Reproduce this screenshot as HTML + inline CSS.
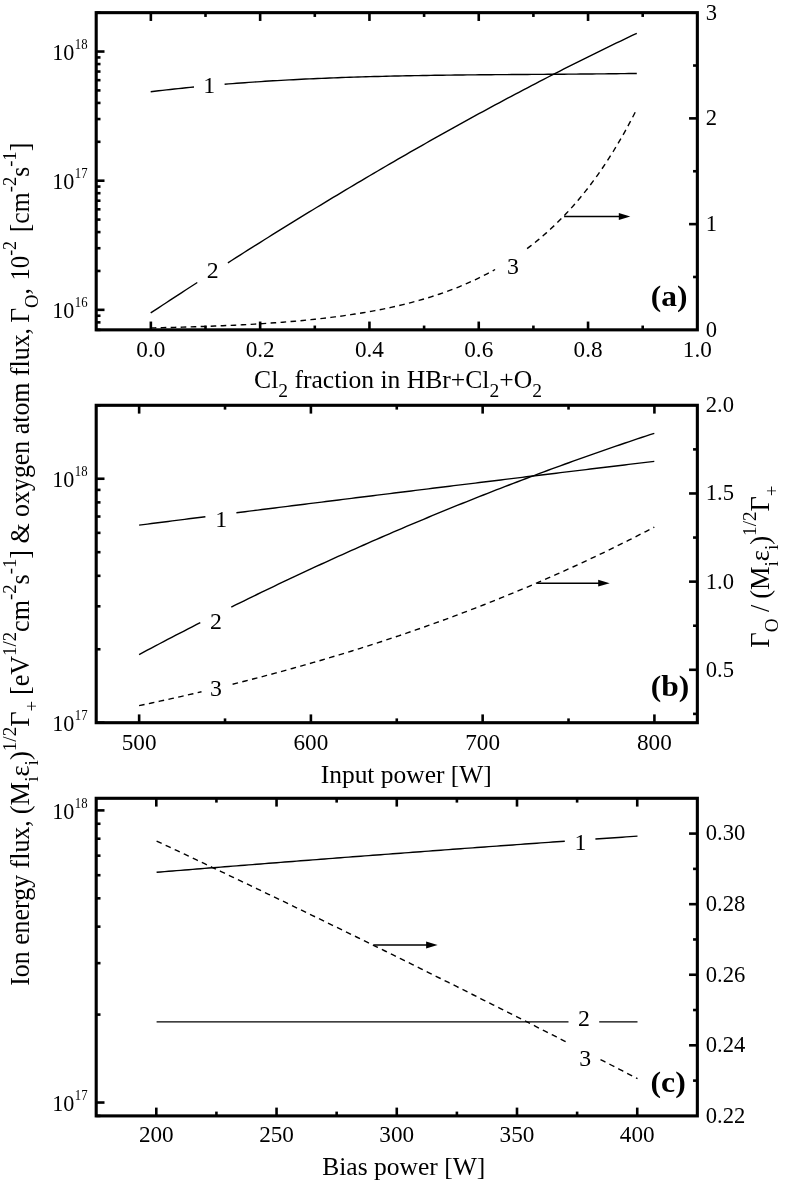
<!DOCTYPE html>
<html lang="en">
<head>
<meta charset="utf-8">
<title>Figure</title>
<style>html,body{margin:0;padding:0;background:#fff;}svg{display:block;}</style>
</head>
<body>
<svg width="785" height="1184" viewBox="0 0 785 1184" font-family='"Liberation Serif", serif' fill="#000" stroke="#000">
<rect x="0" y="0" width="785" height="1184" fill="#fff" stroke="none"/>
<g stroke="#000" fill="none" stroke-linecap="butt">
<rect x="96.2" y="12.65" width="601.15" height="317.2" fill="none" stroke="#000" stroke-width="3.1"/>
<line x1="96.2" y1="329.85" x2="100.5" y2="329.85" stroke-width="2.6"/>
<line x1="96.2" y1="322.36" x2="100.5" y2="322.36" stroke-width="2.6"/>
<line x1="96.2" y1="315.75" x2="100.5" y2="315.75" stroke-width="2.6"/>
<line x1="96.2" y1="309.84" x2="104.5" y2="309.84" stroke-width="2.6"/>
<line x1="96.2" y1="270.96" x2="100.5" y2="270.96" stroke-width="2.6"/>
<line x1="96.2" y1="248.22" x2="100.5" y2="248.22" stroke-width="2.6"/>
<line x1="96.2" y1="232.08" x2="100.5" y2="232.08" stroke-width="2.6"/>
<line x1="96.2" y1="219.57" x2="100.5" y2="219.57" stroke-width="2.6"/>
<line x1="96.2" y1="209.34" x2="100.5" y2="209.34" stroke-width="2.6"/>
<line x1="96.2" y1="200.69" x2="100.5" y2="200.69" stroke-width="2.6"/>
<line x1="96.2" y1="193.2" x2="100.5" y2="193.2" stroke-width="2.6"/>
<line x1="96.2" y1="186.6" x2="100.5" y2="186.6" stroke-width="2.6"/>
<line x1="96.2" y1="180.69" x2="104.5" y2="180.69" stroke-width="2.6"/>
<line x1="96.2" y1="141.81" x2="100.5" y2="141.81" stroke-width="2.6"/>
<line x1="96.2" y1="119.06" x2="100.5" y2="119.06" stroke-width="2.6"/>
<line x1="96.2" y1="102.93" x2="100.5" y2="102.93" stroke-width="2.6"/>
<line x1="96.2" y1="90.41" x2="100.5" y2="90.41" stroke-width="2.6"/>
<line x1="96.2" y1="80.18" x2="100.5" y2="80.18" stroke-width="2.6"/>
<line x1="96.2" y1="71.54" x2="100.5" y2="71.54" stroke-width="2.6"/>
<line x1="96.2" y1="64.05" x2="100.5" y2="64.05" stroke-width="2.6"/>
<line x1="96.2" y1="57.44" x2="100.5" y2="57.44" stroke-width="2.6"/>
<line x1="96.2" y1="51.53" x2="104.5" y2="51.53" stroke-width="2.6"/>
<line x1="96.2" y1="12.65" x2="100.5" y2="12.65" stroke-width="2.6"/>
<text stroke="none" fill="#000" x="52.3" y="318.14" font-size="23.8" textLength="22.13" lengthAdjust="spacingAndGlyphs">10</text>
<text stroke="none" fill="#000" x="74.8" y="307.24" font-size="13.7" textLength="12.74" lengthAdjust="spacingAndGlyphs">16</text>
<text stroke="none" fill="#000" x="52.3" y="188.99" font-size="23.8" textLength="22.13" lengthAdjust="spacingAndGlyphs">10</text>
<text stroke="none" fill="#000" x="74.8" y="178.09" font-size="13.7" textLength="12.74" lengthAdjust="spacingAndGlyphs">17</text>
<text stroke="none" fill="#000" x="52.3" y="59.83" font-size="23.8" textLength="22.13" lengthAdjust="spacingAndGlyphs">10</text>
<text stroke="none" fill="#000" x="74.8" y="48.93" font-size="13.7" textLength="12.74" lengthAdjust="spacingAndGlyphs">18</text>
<line x1="150.85" y1="329.85" x2="150.85" y2="321.55" stroke-width="2.6"/>
<line x1="150.85" y1="12.65" x2="150.85" y2="20.95" stroke-width="2.6"/>
<line x1="260.15" y1="329.85" x2="260.15" y2="321.55" stroke-width="2.6"/>
<line x1="260.15" y1="12.65" x2="260.15" y2="20.95" stroke-width="2.6"/>
<line x1="369.45" y1="329.85" x2="369.45" y2="321.55" stroke-width="2.6"/>
<line x1="369.45" y1="12.65" x2="369.45" y2="20.95" stroke-width="2.6"/>
<line x1="478.75" y1="329.85" x2="478.75" y2="321.55" stroke-width="2.6"/>
<line x1="478.75" y1="12.65" x2="478.75" y2="20.95" stroke-width="2.6"/>
<line x1="588.05" y1="329.85" x2="588.05" y2="321.55" stroke-width="2.6"/>
<line x1="588.05" y1="12.65" x2="588.05" y2="20.95" stroke-width="2.6"/>
<line x1="205.5" y1="329.85" x2="205.5" y2="325.55" stroke-width="2.6"/>
<line x1="205.5" y1="12.65" x2="205.5" y2="16.95" stroke-width="2.6"/>
<line x1="314.8" y1="329.85" x2="314.8" y2="325.55" stroke-width="2.6"/>
<line x1="314.8" y1="12.65" x2="314.8" y2="16.95" stroke-width="2.6"/>
<line x1="424.1" y1="329.85" x2="424.1" y2="325.55" stroke-width="2.6"/>
<line x1="424.1" y1="12.65" x2="424.1" y2="16.95" stroke-width="2.6"/>
<line x1="533.4" y1="329.85" x2="533.4" y2="325.55" stroke-width="2.6"/>
<line x1="533.4" y1="12.65" x2="533.4" y2="16.95" stroke-width="2.6"/>
<line x1="642.7" y1="329.85" x2="642.7" y2="325.55" stroke-width="2.6"/>
<line x1="642.7" y1="12.65" x2="642.7" y2="16.95" stroke-width="2.6"/>
<text stroke="none" fill="#000" x="136.35" y="356.75" font-size="23.8" textLength="29.01" lengthAdjust="spacingAndGlyphs">0.0</text>
<text stroke="none" fill="#000" x="245.65" y="356.75" font-size="23.8" textLength="29.01" lengthAdjust="spacingAndGlyphs">0.2</text>
<text stroke="none" fill="#000" x="354.95" y="356.75" font-size="23.8" textLength="29.01" lengthAdjust="spacingAndGlyphs">0.4</text>
<text stroke="none" fill="#000" x="464.25" y="356.75" font-size="23.8" textLength="29.01" lengthAdjust="spacingAndGlyphs">0.6</text>
<text stroke="none" fill="#000" x="573.55" y="356.75" font-size="23.8" textLength="29.01" lengthAdjust="spacingAndGlyphs">0.8</text>
<text stroke="none" fill="#000" x="682.85" y="356.75" font-size="23.8" textLength="29.01" lengthAdjust="spacingAndGlyphs">1.0</text>
<line x1="697.35" y1="224.12" x2="689.05" y2="224.12" stroke-width="2.6"/>
<line x1="697.35" y1="118.38" x2="689.05" y2="118.38" stroke-width="2.6"/>
<line x1="697.35" y1="276.98" x2="693.05" y2="276.98" stroke-width="2.6"/>
<line x1="697.35" y1="171.25" x2="693.05" y2="171.25" stroke-width="2.6"/>
<line x1="697.35" y1="65.52" x2="693.05" y2="65.52" stroke-width="2.6"/>
<text stroke="none" fill="#000" x="705.8" y="336.75" font-size="23.8" textLength="11.3" lengthAdjust="spacingAndGlyphs">0</text>
<text stroke="none" fill="#000" x="705.8" y="231.02" font-size="23.8" textLength="11.3" lengthAdjust="spacingAndGlyphs">1</text>
<text stroke="none" fill="#000" x="705.8" y="125.28" font-size="23.8" textLength="11.3" lengthAdjust="spacingAndGlyphs">2</text>
<text stroke="none" fill="#000" x="705.8" y="19.55" font-size="23.8" textLength="11.3" lengthAdjust="spacingAndGlyphs">3</text>
<rect x="96.2" y="405.3" width="601.15" height="317.4" fill="none" stroke="#000" stroke-width="3.1"/>
<line x1="96.2" y1="722.7" x2="104.5" y2="722.7" stroke-width="2.6"/>
<line x1="96.2" y1="649.26" x2="100.5" y2="649.26" stroke-width="2.6"/>
<line x1="96.2" y1="606.3" x2="100.5" y2="606.3" stroke-width="2.6"/>
<line x1="96.2" y1="575.82" x2="100.5" y2="575.82" stroke-width="2.6"/>
<line x1="96.2" y1="552.18" x2="100.5" y2="552.18" stroke-width="2.6"/>
<line x1="96.2" y1="532.86" x2="100.5" y2="532.86" stroke-width="2.6"/>
<line x1="96.2" y1="516.53" x2="100.5" y2="516.53" stroke-width="2.6"/>
<line x1="96.2" y1="502.38" x2="100.5" y2="502.38" stroke-width="2.6"/>
<line x1="96.2" y1="489.9" x2="100.5" y2="489.9" stroke-width="2.6"/>
<line x1="96.2" y1="478.74" x2="104.5" y2="478.74" stroke-width="2.6"/>
<line x1="96.2" y1="405.3" x2="100.5" y2="405.3" stroke-width="2.6"/>
<text stroke="none" fill="#000" x="52.3" y="731" font-size="23.8" textLength="22.13" lengthAdjust="spacingAndGlyphs">10</text>
<text stroke="none" fill="#000" x="74.8" y="720.1" font-size="13.7" textLength="12.74" lengthAdjust="spacingAndGlyphs">17</text>
<text stroke="none" fill="#000" x="52.3" y="487.04" font-size="23.8" textLength="22.13" lengthAdjust="spacingAndGlyphs">10</text>
<text stroke="none" fill="#000" x="74.8" y="476.14" font-size="13.7" textLength="12.74" lengthAdjust="spacingAndGlyphs">18</text>
<line x1="139.14" y1="722.7" x2="139.14" y2="714.4" stroke-width="2.6"/>
<line x1="139.14" y1="405.3" x2="139.14" y2="413.6" stroke-width="2.6"/>
<line x1="310.9" y1="722.7" x2="310.9" y2="714.4" stroke-width="2.6"/>
<line x1="310.9" y1="405.3" x2="310.9" y2="413.6" stroke-width="2.6"/>
<line x1="482.65" y1="722.7" x2="482.65" y2="714.4" stroke-width="2.6"/>
<line x1="482.65" y1="405.3" x2="482.65" y2="413.6" stroke-width="2.6"/>
<line x1="654.41" y1="722.7" x2="654.41" y2="714.4" stroke-width="2.6"/>
<line x1="654.41" y1="405.3" x2="654.41" y2="413.6" stroke-width="2.6"/>
<line x1="225.02" y1="722.7" x2="225.02" y2="718.4" stroke-width="2.6"/>
<line x1="225.02" y1="405.3" x2="225.02" y2="409.6" stroke-width="2.6"/>
<line x1="396.77" y1="722.7" x2="396.77" y2="718.4" stroke-width="2.6"/>
<line x1="396.77" y1="405.3" x2="396.77" y2="409.6" stroke-width="2.6"/>
<line x1="568.53" y1="722.7" x2="568.53" y2="718.4" stroke-width="2.6"/>
<line x1="568.53" y1="405.3" x2="568.53" y2="409.6" stroke-width="2.6"/>
<text stroke="none" fill="#000" x="121.74" y="749.6" font-size="23.8" textLength="34.81" lengthAdjust="spacingAndGlyphs">500</text>
<text stroke="none" fill="#000" x="293.49" y="749.6" font-size="23.8" textLength="34.81" lengthAdjust="spacingAndGlyphs">600</text>
<text stroke="none" fill="#000" x="465.25" y="749.6" font-size="23.8" textLength="34.81" lengthAdjust="spacingAndGlyphs">700</text>
<text stroke="none" fill="#000" x="637.01" y="749.6" font-size="23.8" textLength="34.81" lengthAdjust="spacingAndGlyphs">800</text>
<line x1="697.35" y1="669.8" x2="689.05" y2="669.8" stroke-width="2.6"/>
<line x1="697.35" y1="581.63" x2="689.05" y2="581.63" stroke-width="2.6"/>
<line x1="697.35" y1="493.47" x2="689.05" y2="493.47" stroke-width="2.6"/>
<line x1="697.35" y1="713.88" x2="693.05" y2="713.88" stroke-width="2.6"/>
<line x1="697.35" y1="625.72" x2="693.05" y2="625.72" stroke-width="2.6"/>
<line x1="697.35" y1="537.55" x2="693.05" y2="537.55" stroke-width="2.6"/>
<line x1="697.35" y1="449.38" x2="693.05" y2="449.38" stroke-width="2.6"/>
<text stroke="none" fill="#000" x="705.8" y="676.7" font-size="23.8" textLength="28.26" lengthAdjust="spacingAndGlyphs">0.5</text>
<text stroke="none" fill="#000" x="705.8" y="588.53" font-size="23.8" textLength="28.26" lengthAdjust="spacingAndGlyphs">1.0</text>
<text stroke="none" fill="#000" x="705.8" y="500.37" font-size="23.8" textLength="28.26" lengthAdjust="spacingAndGlyphs">1.5</text>
<text stroke="none" fill="#000" x="705.8" y="412.2" font-size="23.8" textLength="28.26" lengthAdjust="spacingAndGlyphs">2.0</text>
<rect x="96.2" y="798.3" width="601.15" height="317.6" fill="none" stroke="#000" stroke-width="3.1"/>
<line x1="96.2" y1="1115.9" x2="100.5" y2="1115.9" stroke-width="2.6"/>
<line x1="96.2" y1="1102.53" x2="104.5" y2="1102.53" stroke-width="2.6"/>
<line x1="96.2" y1="1014.59" x2="100.5" y2="1014.59" stroke-width="2.6"/>
<line x1="96.2" y1="963.15" x2="100.5" y2="963.15" stroke-width="2.6"/>
<line x1="96.2" y1="926.65" x2="100.5" y2="926.65" stroke-width="2.6"/>
<line x1="96.2" y1="898.34" x2="100.5" y2="898.34" stroke-width="2.6"/>
<line x1="96.2" y1="875.2" x2="100.5" y2="875.2" stroke-width="2.6"/>
<line x1="96.2" y1="855.65" x2="100.5" y2="855.65" stroke-width="2.6"/>
<line x1="96.2" y1="838.7" x2="100.5" y2="838.7" stroke-width="2.6"/>
<line x1="96.2" y1="823.76" x2="100.5" y2="823.76" stroke-width="2.6"/>
<line x1="96.2" y1="810.39" x2="104.5" y2="810.39" stroke-width="2.6"/>
<text stroke="none" fill="#000" x="52.3" y="1110.83" font-size="23.8" textLength="22.13" lengthAdjust="spacingAndGlyphs">10</text>
<text stroke="none" fill="#000" x="74.8" y="1099.93" font-size="13.7" textLength="12.74" lengthAdjust="spacingAndGlyphs">17</text>
<text stroke="none" fill="#000" x="52.3" y="818.69" font-size="23.8" textLength="22.13" lengthAdjust="spacingAndGlyphs">10</text>
<text stroke="none" fill="#000" x="74.8" y="807.79" font-size="13.7" textLength="12.74" lengthAdjust="spacingAndGlyphs">18</text>
<line x1="156.31" y1="1115.9" x2="156.31" y2="1107.6" stroke-width="2.6"/>
<line x1="156.31" y1="798.3" x2="156.31" y2="806.6" stroke-width="2.6"/>
<line x1="276.55" y1="1115.9" x2="276.55" y2="1107.6" stroke-width="2.6"/>
<line x1="276.55" y1="798.3" x2="276.55" y2="806.6" stroke-width="2.6"/>
<line x1="396.77" y1="1115.9" x2="396.77" y2="1107.6" stroke-width="2.6"/>
<line x1="396.77" y1="798.3" x2="396.77" y2="806.6" stroke-width="2.6"/>
<line x1="517" y1="1115.9" x2="517" y2="1107.6" stroke-width="2.6"/>
<line x1="517" y1="798.3" x2="517" y2="806.6" stroke-width="2.6"/>
<line x1="637.24" y1="1115.9" x2="637.24" y2="1107.6" stroke-width="2.6"/>
<line x1="637.24" y1="798.3" x2="637.24" y2="806.6" stroke-width="2.6"/>
<line x1="216.43" y1="1115.9" x2="216.43" y2="1111.6" stroke-width="2.6"/>
<line x1="216.43" y1="798.3" x2="216.43" y2="802.6" stroke-width="2.6"/>
<line x1="336.66" y1="1115.9" x2="336.66" y2="1111.6" stroke-width="2.6"/>
<line x1="336.66" y1="798.3" x2="336.66" y2="802.6" stroke-width="2.6"/>
<line x1="456.89" y1="1115.9" x2="456.89" y2="1111.6" stroke-width="2.6"/>
<line x1="456.89" y1="798.3" x2="456.89" y2="802.6" stroke-width="2.6"/>
<line x1="577.12" y1="1115.9" x2="577.12" y2="1111.6" stroke-width="2.6"/>
<line x1="577.12" y1="798.3" x2="577.12" y2="802.6" stroke-width="2.6"/>
<text stroke="none" fill="#000" x="138.91" y="1141.6" font-size="23.8" textLength="34.81" lengthAdjust="spacingAndGlyphs">200</text>
<text stroke="none" fill="#000" x="259.14" y="1141.6" font-size="23.8" textLength="34.81" lengthAdjust="spacingAndGlyphs">250</text>
<text stroke="none" fill="#000" x="379.37" y="1141.6" font-size="23.8" textLength="34.81" lengthAdjust="spacingAndGlyphs">300</text>
<text stroke="none" fill="#000" x="499.6" y="1141.6" font-size="23.8" textLength="34.81" lengthAdjust="spacingAndGlyphs">350</text>
<text stroke="none" fill="#000" x="619.83" y="1141.6" font-size="23.8" textLength="34.81" lengthAdjust="spacingAndGlyphs">400</text>
<line x1="697.35" y1="1045.32" x2="689.05" y2="1045.32" stroke-width="2.6"/>
<line x1="697.35" y1="974.74" x2="689.05" y2="974.74" stroke-width="2.6"/>
<line x1="697.35" y1="904.17" x2="689.05" y2="904.17" stroke-width="2.6"/>
<line x1="697.35" y1="833.59" x2="689.05" y2="833.59" stroke-width="2.6"/>
<line x1="697.35" y1="1080.61" x2="693.05" y2="1080.61" stroke-width="2.6"/>
<line x1="697.35" y1="1010.03" x2="693.05" y2="1010.03" stroke-width="2.6"/>
<line x1="697.35" y1="939.46" x2="693.05" y2="939.46" stroke-width="2.6"/>
<line x1="697.35" y1="868.88" x2="693.05" y2="868.88" stroke-width="2.6"/>
<text stroke="none" fill="#000" x="705.8" y="1122.8" font-size="23.8" textLength="39.57" lengthAdjust="spacingAndGlyphs">0.22</text>
<text stroke="none" fill="#000" x="705.8" y="1052.22" font-size="23.8" textLength="39.57" lengthAdjust="spacingAndGlyphs">0.24</text>
<text stroke="none" fill="#000" x="705.8" y="981.64" font-size="23.8" textLength="39.57" lengthAdjust="spacingAndGlyphs">0.26</text>
<text stroke="none" fill="#000" x="705.8" y="911.07" font-size="23.8" textLength="39.57" lengthAdjust="spacingAndGlyphs">0.28</text>
<text stroke="none" fill="#000" x="705.8" y="840.49" font-size="23.8" textLength="39.57" lengthAdjust="spacingAndGlyphs">0.30</text>
<path d="M150.7 91.74 L154.64 91.26 L158.57 90.8 L162.51 90.34 L166.45 89.89 L170.38 89.45 L174.32 89.02 L178.25 88.6 L182.19 88.18 L186.13 87.78 L190.06 87.38 L194 86.99" fill="none" stroke="#000" stroke-width="1.4"/>
<path d="M224.6 84.25 L228.64 83.92 L232.68 83.6 L236.72 83.29 L240.76 82.99 L244.81 82.69 L248.85 82.4 L252.89 82.12 L256.93 81.85 L260.97 81.58 L265.01 81.32 L269.05 81.06 L273.09 80.82 L277.14 80.58 L281.18 80.34 L285.22 80.12 L289.26 79.9 L293.3 79.68 L297.34 79.47 L301.38 79.27 L305.42 79.07 L309.46 78.88 L313.51 78.7 L317.55 78.52 L321.59 78.35 L325.63 78.18 L329.67 78.01 L333.71 77.86 L337.75 77.7 L341.79 77.56 L345.84 77.42 L349.88 77.28 L353.92 77.14 L357.96 77.02 L362 76.89 L366.04 76.77 L370.08 76.66 L374.12 76.55 L378.16 76.44 L382.21 76.34 L386.25 76.24 L390.29 76.14 L394.33 76.05 L398.37 75.97 L402.41 75.88 L406.45 75.8 L410.49 75.72 L414.54 75.65 L418.58 75.58 L422.62 75.51 L426.66 75.44 L430.7 75.38 L434.74 75.32 L438.78 75.26 L442.82 75.21 L446.86 75.16 L450.91 75.11 L454.95 75.06 L458.99 75.01 L463.03 74.97 L467.07 74.92 L471.11 74.88 L475.15 74.84 L479.19 74.81 L483.24 74.77 L487.28 74.74 L491.32 74.7 L495.36 74.67 L499.4 74.64 L503.44 74.61 L507.48 74.58 L511.52 74.55 L515.56 74.52 L519.61 74.49 L523.65 74.46 L527.69 74.44 L531.73 74.41 L535.77 74.38 L539.81 74.36 L543.85 74.33 L547.89 74.3 L551.94 74.27 L555.98 74.25 L560.02 74.22 L564.06 74.19 L568.1 74.16 L572.14 74.13 L576.18 74.1 L580.22 74.06 L584.26 74.03 L588.31 73.99 L592.35 73.96 L596.39 73.92 L600.43 73.88 L604.47 73.84 L608.51 73.79 L612.55 73.75 L616.59 73.7 L620.64 73.65 L624.68 73.6 L628.72 73.55 L632.76 73.49 L636.8 73.43" fill="none" stroke="#000" stroke-width="1.4"/>
<path d="M150.7 312.95 L154.58 310.39 L158.47 307.83 L162.35 305.28 L166.23 302.72 L170.12 300.18 L174 297.63 L177.88 295.1 L181.77 292.56 L185.65 290.03 L189.53 287.51 L193.42 284.99 L197.3 282.47" fill="none" stroke="#000" stroke-width="1.4"/>
<path d="M227.9 262.8 L231.95 260.22 L236 257.65 L240.05 255.08 L244.09 252.51 L248.14 249.95 L252.19 247.4 L256.24 244.85 L260.29 242.3 L264.34 239.77 L268.39 237.23 L272.43 234.71 L276.48 232.18 L280.53 229.67 L284.58 227.16 L288.63 224.65 L292.68 222.15 L296.72 219.66 L300.77 217.17 L304.82 214.68 L308.87 212.21 L312.92 209.74 L316.97 207.27 L321.02 204.81 L325.06 202.36 L329.11 199.91 L333.16 197.47 L337.21 195.03 L341.26 192.6 L345.31 190.17 L349.36 187.76 L353.4 185.34 L357.45 182.94 L361.5 180.54 L365.55 178.14 L369.6 175.75 L373.65 173.37 L377.7 171 L381.74 168.63 L385.79 166.27 L389.84 163.91 L393.89 161.56 L397.94 159.21 L401.99 156.88 L406.03 154.55 L410.08 152.22 L414.13 149.9 L418.18 147.59 L422.23 145.29 L426.28 142.99 L430.33 140.7 L434.37 138.41 L438.42 136.13 L442.47 133.86 L446.52 131.6 L450.57 129.34 L454.62 127.09 L458.67 124.84 L462.71 122.6 L466.76 120.37 L470.81 118.15 L474.86 115.93 L478.91 113.72 L482.96 111.52 L487 109.32 L491.05 107.13 L495.1 104.95 L499.15 102.78 L503.2 100.61 L507.25 98.45 L511.3 96.3 L515.34 94.15 L519.39 92.01 L523.44 89.88 L527.49 87.76 L531.54 85.64 L535.59 83.53 L539.64 81.43 L543.68 79.34 L547.73 77.25 L551.78 75.17 L555.83 73.1 L559.88 71.04 L563.93 68.98 L567.98 66.93 L572.02 64.89 L576.07 62.86 L580.12 60.83 L584.17 58.82 L588.22 56.81 L592.27 54.8 L596.31 52.81 L600.36 50.82 L604.41 48.85 L608.46 46.88 L612.51 44.91 L616.56 42.96 L620.61 41.01 L624.65 39.08 L628.7 37.15 L632.75 35.22 L636.8 33.31" fill="none" stroke="#000" stroke-width="1.4"/>
<path d="M150.7 327.92 L154.7 327.83 L158.71 327.75 L162.71 327.66 L166.72 327.56 L170.72 327.46 L174.73 327.36 L178.73 327.25 L182.74 327.14 L186.74 327.02 L190.75 326.9 L194.75 326.77 L198.76 326.64 L202.76 326.5 L206.77 326.36 L210.77 326.21 L214.77 326.06 L218.78 325.89 L222.78 325.73 L226.79 325.55 L230.79 325.37 L234.8 325.18 L238.8 324.98 L242.81 324.77 L246.81 324.56 L250.82 324.33 L254.82 324.1 L258.83 323.86 L262.83 323.61 L266.83 323.34 L270.84 323.07 L274.84 322.79 L278.85 322.49 L282.85 322.18 L286.86 321.87 L290.86 321.53 L294.87 321.19 L298.87 320.83 L302.88 320.46 L306.88 320.07 L310.89 319.67 L314.89 319.25 L318.9 318.82 L322.9 318.36 L326.9 317.9 L330.91 317.41 L334.91 316.9 L338.92 316.38 L342.92 315.83 L346.93 315.26 L350.93 314.67 L354.94 314.06 L358.94 313.43 L362.95 312.77 L366.95 312.08 L370.96 311.37 L374.96 310.63 L378.97 309.87 L382.97 309.07 L386.97 308.25 L390.98 307.39 L394.98 306.5 L398.99 305.58 L402.99 304.62 L407 303.63 L411 302.6 L415.01 301.53 L419.01 300.42 L423.02 299.27 L427.02 298.08 L431.03 296.84 L435.03 295.56 L439.03 294.23 L443.04 292.85 L447.04 291.41 L451.05 289.93 L455.05 288.39 L459.06 286.79 L463.06 285.13 L467.07 283.42 L471.07 281.64 L475.08 279.79 L479.08 277.88 L483.09 275.89 L487.09 273.83 L491.1 271.7 L495.1 269.49" fill="none" stroke="#000" stroke-width="1.4" stroke-dasharray="5.6 4.4"/>
<path d="M527.1 248.64 L531.01 245.66 L534.91 242.58 L538.82 239.38 L542.73 236.07 L546.64 232.65 L550.54 229.1 L554.45 225.42 L558.36 221.62 L562.26 217.68 L566.17 213.6 L570.08 209.38 L573.99 205 L577.89 200.47 L581.8 195.78 L585.71 190.93 L589.61 185.9 L593.52 180.69 L597.43 175.3 L601.34 169.72 L605.24 163.93 L609.15 157.95 L613.06 151.75 L616.96 145.33 L620.87 138.68 L624.78 131.8 L628.69 124.67 L632.59 117.29 L636.5 109.65" fill="none" stroke="#000" stroke-width="1.4" stroke-dasharray="5.6 4.4"/>
<line x1="564.1" y1="216.5" x2="619.8" y2="216.5" stroke-width="1.4"/>
<path d="M630.3 216.5 L618.8 213.1 L618.8 219.9 Z" fill="#000" stroke="none"/>
<path d="M139.1 525.15 L143.24 524.62 L147.39 524.09 L151.53 523.56 L155.68 523.03 L159.82 522.5 L163.96 521.97 L168.11 521.45 L172.25 520.92 L176.39 520.39 L180.54 519.86 L184.68 519.34 L188.82 518.81 L192.97 518.28 L197.11 517.76 L201.26 517.23 L205.4 516.71" fill="none" stroke="#000" stroke-width="1.4"/>
<path d="M236.4 512.78 L240.66 512.24 L244.93 511.71 L249.19 511.17 L253.46 510.63 L257.72 510.09 L261.99 509.56 L266.25 509.02 L270.51 508.48 L274.78 507.95 L279.04 507.41 L283.31 506.88 L287.57 506.34 L291.84 505.8 L296.1 505.27 L300.36 504.74 L304.63 504.2 L308.89 503.67 L313.16 503.13 L317.42 502.6 L321.69 502.07 L325.95 501.53 L330.21 501 L334.48 500.47 L338.74 499.94 L343.01 499.41 L347.27 498.88 L351.54 498.34 L355.8 497.81 L360.06 497.28 L364.33 496.75 L368.59 496.22 L372.86 495.69 L377.12 495.16 L381.39 494.63 L385.65 494.11 L389.91 493.58 L394.18 493.05 L398.44 492.52 L402.71 491.99 L406.97 491.47 L411.24 490.94 L415.5 490.41 L419.76 489.89 L424.03 489.36 L428.29 488.83 L432.56 488.31 L436.82 487.78 L441.09 487.26 L445.35 486.73 L449.61 486.21 L453.88 485.68 L458.14 485.16 L462.41 484.64 L466.67 484.11 L470.94 483.59 L475.2 483.07 L479.46 482.54 L483.73 482.02 L487.99 481.5 L492.26 480.98 L496.52 480.46 L500.79 479.94 L505.05 479.41 L509.31 478.89 L513.58 478.37 L517.84 477.85 L522.11 477.33 L526.37 476.81 L530.64 476.3 L534.9 475.78 L539.16 475.26 L543.43 474.74 L547.69 474.22 L551.96 473.7 L556.22 473.19 L560.49 472.67 L564.75 472.15 L569.01 471.64 L573.28 471.12 L577.54 470.6 L581.81 470.09 L586.07 469.57 L590.34 469.06 L594.6 468.54 L598.86 468.03 L603.13 467.51 L607.39 467 L611.66 466.49 L615.92 465.97 L620.19 465.46 L624.45 464.95 L628.71 464.43 L632.98 463.92 L637.24 463.41 L641.51 462.9 L645.77 462.39 L650.04 461.88 L654.3 461.36" fill="none" stroke="#000" stroke-width="1.4"/>
<path d="M139.1 654.57 L143.18 652.39 L147.26 650.22 L151.34 648.06 L155.42 645.9 L159.5 643.75 L163.58 641.61 L167.66 639.48 L171.74 637.35 L175.82 635.23 L179.9 633.12 L183.98 631.01 L188.06 628.91 L192.14 626.82 L196.22 624.73 L200.3 622.65" fill="none" stroke="#000" stroke-width="1.4"/>
<path d="M231.3 607.08 L235.57 604.97 L239.85 602.86 L244.12 600.76 L248.39 598.67 L252.66 596.58 L256.94 594.5 L261.21 592.43 L265.48 590.37 L269.75 588.32 L274.03 586.27 L278.3 584.23 L282.57 582.2 L286.85 580.17 L291.12 578.15 L295.39 576.14 L299.66 574.14 L303.94 572.15 L308.21 570.16 L312.48 568.18 L316.75 566.21 L321.03 564.24 L325.3 562.28 L329.57 560.33 L333.85 558.39 L338.12 556.45 L342.39 554.52 L346.66 552.6 L350.94 550.69 L355.21 548.78 L359.48 546.88 L363.75 544.99 L368.03 543.11 L372.3 541.23 L376.57 539.36 L380.85 537.5 L385.12 535.64 L389.39 533.8 L393.66 531.96 L397.94 530.12 L402.21 528.3 L406.48 526.48 L410.75 524.67 L415.03 522.86 L419.3 521.07 L423.57 519.28 L427.85 517.5 L432.12 515.72 L436.39 513.95 L440.66 512.19 L444.94 510.44 L449.21 508.69 L453.48 506.96 L457.75 505.22 L462.03 503.5 L466.3 501.78 L470.57 500.07 L474.85 498.37 L479.12 496.68 L483.39 494.99 L487.66 493.31 L491.94 491.63 L496.21 489.97 L500.48 488.31 L504.75 486.65 L509.03 485.01 L513.3 483.37 L517.57 481.74 L521.85 480.12 L526.12 478.5 L530.39 476.89 L534.66 475.29 L538.94 473.69 L543.21 472.11 L547.48 470.53 L551.75 468.95 L556.03 467.38 L560.3 465.83 L564.57 464.27 L568.85 462.73 L573.12 461.19 L577.39 459.66 L581.66 458.13 L585.94 456.62 L590.21 455.11 L594.48 453.6 L598.75 452.11 L603.03 450.62 L607.3 449.13 L611.57 447.66 L615.85 446.19 L620.12 444.73 L624.39 443.28 L628.66 441.83 L632.94 440.39 L637.21 438.96 L641.48 437.53 L645.75 436.11 L650.03 434.7 L654.3 433.29" fill="none" stroke="#000" stroke-width="1.4"/>
<path d="M139.1 705.66 L143.26 704.78 L147.42 703.89 L151.58 703 L155.74 702.1 L159.9 701.19 L164.06 700.28 L168.22 699.36 L172.38 698.43 L176.54 697.5 L180.7 696.56 L184.86 695.61 L189.02 694.66 L193.18 693.7 L197.34 692.73 L201.5 691.75" fill="none" stroke="#000" stroke-width="1.4" stroke-dasharray="5.6 4.4"/>
<path d="M232.6 684.21 L236.86 683.14 L241.12 682.07 L245.38 680.99 L249.64 679.89 L253.9 678.79 L258.16 677.69 L262.42 676.57 L266.68 675.44 L270.94 674.31 L275.2 673.16 L279.46 672.01 L283.72 670.85 L287.97 669.68 L292.23 668.5 L296.49 667.31 L300.75 666.11 L305.01 664.9 L309.27 663.68 L313.53 662.45 L317.79 661.22 L322.05 659.97 L326.31 658.71 L330.57 657.45 L334.83 656.17 L339.09 654.89 L343.35 653.59 L347.61 652.28 L351.87 650.97 L356.13 649.64 L360.39 648.3 L364.65 646.96 L368.91 645.6 L373.17 644.23 L377.43 642.85 L381.69 641.46 L385.95 640.06 L390.21 638.65 L394.46 637.23 L398.72 635.8 L402.98 634.35 L407.24 632.9 L411.5 631.43 L415.76 629.95 L420.02 628.47 L424.28 626.97 L428.54 625.45 L432.8 623.93 L437.06 622.4 L441.32 620.85 L445.58 619.29 L449.84 617.72 L454.1 616.14 L458.36 614.55 L462.62 612.94 L466.88 611.32 L471.14 609.69 L475.4 608.05 L479.66 606.4 L483.92 604.73 L488.18 603.05 L492.44 601.36 L496.69 599.66 L500.95 597.94 L505.21 596.21 L509.47 594.47 L513.73 592.71 L517.99 590.95 L522.25 589.17 L526.51 587.37 L530.77 585.56 L535.03 583.74 L539.29 581.91 L543.55 580.06 L547.81 578.2 L552.07 576.33 L556.33 574.44 L560.59 572.54 L564.85 570.63 L569.11 568.7 L573.37 566.76 L577.63 564.8 L581.89 562.83 L586.15 560.84 L590.41 558.85 L594.67 556.83 L598.93 554.81 L603.18 552.77 L607.44 550.71 L611.7 548.64 L615.96 546.56 L620.22 544.46 L624.48 542.34 L628.74 540.21 L633 538.07 L637.26 535.91 L641.52 533.74 L645.78 531.55 L650.04 529.35 L654.3 527.13" fill="none" stroke="#000" stroke-width="1.4" stroke-dasharray="5.6 4.4"/>
<line x1="537.1" y1="583.2" x2="599.2" y2="583.2" stroke-width="1.4"/>
<path d="M609.7 583.2 L598.2 579.8 L598.2 586.6 Z" fill="#000" stroke="none"/>
<path d="M156.6 872.27 L160.6 871.95 L164.6 871.62 L168.61 871.3 L172.61 870.97 L176.61 870.65 L180.61 870.33 L184.61 870 L188.62 869.68 L192.62 869.36 L196.62 869.04 L200.62 868.72 L204.62 868.4 L208.63 868.07 L212.63 867.75 L216.63 867.44 L220.63 867.12 L224.63 866.8 L228.64 866.48 L232.64 866.16 L236.64 865.84 L240.64 865.53 L244.64 865.21 L248.65 864.89 L252.65 864.58 L256.65 864.26 L260.65 863.95 L264.65 863.63 L268.65 863.32 L272.66 863 L276.66 862.69 L280.66 862.38 L284.66 862.06 L288.66 861.75 L292.67 861.44 L296.67 861.13 L300.67 860.82 L304.67 860.51 L308.67 860.2 L312.68 859.89 L316.68 859.58 L320.68 859.27 L324.68 858.96 L328.68 858.65 L332.69 858.34 L336.69 858.04 L340.69 857.73 L344.69 857.42 L348.69 857.12 L352.7 856.81 L356.7 856.51 L360.7 856.2 L364.7 855.9 L368.7 855.59 L372.71 855.29 L376.71 854.99 L380.71 854.68 L384.71 854.38 L388.71 854.08 L392.72 853.78 L396.72 853.48 L400.72 853.18 L404.72 852.88 L408.72 852.58 L412.73 852.28 L416.73 851.98 L420.73 851.68 L424.73 851.38 L428.73 851.08 L432.74 850.79 L436.74 850.49 L440.74 850.19 L444.74 849.9 L448.74 849.6 L452.75 849.31 L456.75 849.01 L460.75 848.72 L464.75 848.42 L468.75 848.13 L472.75 847.84 L476.76 847.54 L480.76 847.25 L484.76 846.96 L488.76 846.67 L492.76 846.38 L496.77 846.09 L500.77 845.8 L504.77 845.51 L508.77 845.22 L512.77 844.93 L516.78 844.64 L520.78 844.35 L524.78 844.06 L528.78 843.78 L532.78 843.49 L536.79 843.2 L540.79 842.92 L544.79 842.63 L548.79 842.35 L552.79 842.06 L556.8 841.78 L560.8 841.49 L564.8 841.21" fill="none" stroke="#000" stroke-width="1.4"/>
<path d="M595.4 839.05 L599.23 838.79 L603.05 838.52 L606.88 838.25 L610.71 837.99 L614.54 837.72 L618.36 837.45 L622.19 837.19 L626.02 836.92 L629.85 836.66 L633.67 836.39 L637.5 836.13" fill="none" stroke="#000" stroke-width="1.4"/>
<path d="M156.6 1021.9 L160.6 1021.9 L164.6 1021.9 L168.6 1021.9 L172.6 1021.9 L176.6 1021.9 L180.59 1021.9 L184.59 1021.9 L188.59 1021.9 L192.59 1021.9 L196.59 1021.9 L200.59 1021.9 L204.59 1021.9 L208.59 1021.9 L212.59 1021.9 L216.59 1021.9 L220.58 1021.9 L224.58 1021.9 L228.58 1021.9 L232.58 1021.9 L236.58 1021.9 L240.58 1021.9 L244.58 1021.9 L248.58 1021.9 L252.58 1021.9 L256.58 1021.9 L260.57 1021.9 L264.57 1021.9 L268.57 1021.9 L272.57 1021.9 L276.57 1021.9 L280.57 1021.9 L284.57 1021.9 L288.57 1021.9 L292.57 1021.9 L296.57 1021.9 L300.57 1021.9 L304.56 1021.9 L308.56 1021.9 L312.56 1021.9 L316.56 1021.9 L320.56 1021.9 L324.56 1021.9 L328.56 1021.9 L332.56 1021.9 L336.56 1021.9 L340.56 1021.9 L344.55 1021.9 L348.55 1021.9 L352.55 1021.9 L356.55 1021.9 L360.55 1021.9 L364.55 1021.9 L368.55 1021.9 L372.55 1021.9 L376.55 1021.9 L380.55 1021.9 L384.54 1021.9 L388.54 1021.9 L392.54 1021.9 L396.54 1021.9 L400.54 1021.9 L404.54 1021.9 L408.54 1021.9 L412.54 1021.9 L416.54 1021.9 L420.54 1021.9 L424.53 1021.9 L428.53 1021.9 L432.53 1021.9 L436.53 1021.9 L440.53 1021.9 L444.53 1021.9 L448.53 1021.9 L452.53 1021.9 L456.53 1021.9 L460.53 1021.9 L464.53 1021.9 L468.52 1021.9 L472.52 1021.9 L476.52 1021.9 L480.52 1021.9 L484.52 1021.9 L488.52 1021.9 L492.52 1021.9 L496.52 1021.9 L500.52 1021.9 L504.52 1021.9 L508.51 1021.9 L512.51 1021.9 L516.51 1021.9 L520.51 1021.9 L524.51 1021.9 L528.51 1021.9 L532.51 1021.9 L536.51 1021.9 L540.51 1021.9 L544.51 1021.9 L548.5 1021.9 L552.5 1021.9 L556.5 1021.9 L560.5 1021.9 L564.5 1021.9 L568.5 1021.9" fill="none" stroke="#000" stroke-width="1.4"/>
<path d="M599.2 1021.9 L603.03 1021.9 L606.86 1021.9 L610.69 1021.9 L614.52 1021.9 L618.35 1021.9 L622.18 1021.9 L626.01 1021.9 L629.84 1021.9 L633.67 1021.9 L637.5 1021.9" fill="none" stroke="#000" stroke-width="1.4"/>
<path d="M156.6 841.05 L160.6 842.93 L164.6 844.81 L168.6 846.69 L172.6 848.58 L176.6 850.46 L180.59 852.35 L184.59 854.24 L188.59 856.13 L192.59 858.02 L196.59 859.92 L200.59 861.81 L204.59 863.71 L208.59 865.61 L212.59 867.51 L216.59 869.41 L220.58 871.31 L224.58 873.22 L228.58 875.13 L232.58 877.03 L236.58 878.94 L240.58 880.86 L244.58 882.77 L248.58 884.68 L252.58 886.6 L256.58 888.52 L260.57 890.44 L264.57 892.36 L268.57 894.28 L272.57 896.21 L276.57 898.13 L280.57 900.06 L284.57 901.99 L288.57 903.92 L292.57 905.86 L296.57 907.79 L300.57 909.73 L304.56 911.66 L308.56 913.6 L312.56 915.54 L316.56 917.48 L320.56 919.43 L324.56 921.37 L328.56 923.32 L332.56 925.27 L336.56 927.22 L340.56 929.17 L344.55 931.13 L348.55 933.08 L352.55 935.04 L356.55 937 L360.55 938.96 L364.55 940.92 L368.55 942.88 L372.55 944.85 L376.55 946.81 L380.55 948.78 L384.54 950.75 L388.54 952.72 L392.54 954.7 L396.54 956.67 L400.54 958.65 L404.54 960.63 L408.54 962.61 L412.54 964.59 L416.54 966.57 L420.54 968.55 L424.53 970.54 L428.53 972.53 L432.53 974.52 L436.53 976.51 L440.53 978.5 L444.53 980.49 L448.53 982.49 L452.53 984.49 L456.53 986.49 L460.53 988.49 L464.53 990.49 L468.52 992.49 L472.52 994.5 L476.52 996.5 L480.52 998.51 L484.52 1000.52 L488.52 1002.54 L492.52 1004.55 L496.52 1006.56 L500.52 1008.58 L504.52 1010.6 L508.51 1012.62 L512.51 1014.64 L516.51 1016.66 L520.51 1018.69 L524.51 1020.71 L528.51 1022.74 L532.51 1024.77 L536.51 1026.8 L540.51 1028.84 L544.51 1030.87 L548.5 1032.91 L552.5 1034.95 L556.5 1036.98 L560.5 1039.03 L564.5 1041.07 L568.5 1043.11" fill="none" stroke="#000" stroke-width="1.4" stroke-dasharray="5.6 4.4"/>
<path d="M600.5 1059.53 L604.2 1061.43 L607.9 1063.34 L611.6 1065.25 L615.3 1067.16 L619 1069.07 L622.7 1070.98 L626.4 1072.89 L630.1 1074.8 L633.8 1076.72 L637.5 1078.64" fill="none" stroke="#000" stroke-width="1.4" stroke-dasharray="5.6 4.4"/>
<line x1="373.5" y1="945" x2="427.1" y2="945" stroke-width="1.4"/>
<path d="M437.6 945 L426.1 941.6 L426.1 948.4 Z" fill="#000" stroke="none"/>
<text stroke="none" fill="#000" x="209.3" y="93" font-size="23.8" text-anchor="middle">1</text>
<text stroke="none" fill="#000" x="212.6" y="278.3" font-size="23.8" text-anchor="middle">2</text>
<text stroke="none" fill="#000" x="512.9" y="273.6" font-size="23.8" text-anchor="middle">3</text>
<text stroke="none" fill="#000" x="221.1" y="526.6" font-size="23.8" text-anchor="middle">1</text>
<text stroke="none" fill="#000" x="216" y="628.5" font-size="23.8" text-anchor="middle">2</text>
<text stroke="none" fill="#000" x="216" y="695.8" font-size="23.8" text-anchor="middle">3</text>
<text stroke="none" fill="#000" x="580.5" y="850.1" font-size="23.8" text-anchor="middle">1</text>
<text stroke="none" fill="#000" x="584" y="1026" font-size="23.8" text-anchor="middle">2</text>
<text stroke="none" fill="#000" x="585.2" y="1066" font-size="23.8" text-anchor="middle">3</text>
<text stroke="none" fill="#000" x="650.76" y="306.1" font-size="29.3" font-weight="bold" textLength="36.67" lengthAdjust="spacingAndGlyphs">(a)</text>
<text stroke="none" fill="#000" x="650.86" y="696.1" font-size="29.3" font-weight="bold" textLength="38.45" lengthAdjust="spacingAndGlyphs">(b)</text>
<text stroke="none" fill="#000" x="650.55" y="1091.7" font-size="29.3" font-weight="bold" textLength="35.23" lengthAdjust="spacingAndGlyphs">(c)</text>
<text stroke="none" fill="#000" x="254.1" y="388.4" font-size="25.6"  textLength="287.8" lengthAdjust="spacingAndGlyphs">Cl<tspan font-size="19.5" dy="9">2</tspan><tspan dy="-9">​</tspan> fraction in HBr+Cl<tspan font-size="19.5" dy="9">2</tspan><tspan dy="-9">​</tspan>+O<tspan font-size="19.5" dy="9">2</tspan><tspan dy="-9">​</tspan></text>
<text stroke="none" fill="#000" x="320.71" y="782.6" font-size="25.6"  textLength="171.07" lengthAdjust="spacingAndGlyphs">Input power [W]</text>
<text stroke="none" fill="#000" x="322.15" y="1175.2" font-size="25.6"  textLength="163.21" lengthAdjust="spacingAndGlyphs">Bias power [W]</text>
<text stroke="none" fill="#000" transform="translate(29.4 984.9) rotate(-90)" x="-0.96" y="0" font-size="27"  textLength="165.61" lengthAdjust="spacingAndGlyphs">Ion energy flux,</text>
<text stroke="none" fill="#000" transform="translate(29.4 984.9) rotate(-90)" x="170.67" y="0" font-size="27"  textLength="113.58" lengthAdjust="spacingAndGlyphs">(M<tspan font-size="19.5" dy="9">i</tspan><tspan dy="-9">​</tspan>ε<tspan font-size="19.5" dy="9">i</tspan><tspan dy="-9">​</tspan>)<tspan font-size="19.5" dy="-13.2">1/2</tspan><tspan dy="13.2">​</tspan>Γ<tspan font-size="19.5" dy="9">+</tspan><tspan dy="-9">​</tspan></text>
<text stroke="none" fill="#000" transform="translate(29.4 984.9) rotate(-90)" x="289.97" y="0" font-size="27"  textLength="144.98" lengthAdjust="spacingAndGlyphs">[eV<tspan font-size="19.5" dy="-13.2">1/2</tspan><tspan dy="13.2">​</tspan>cm<tspan font-size="19.5" dy="-13.2">-2</tspan><tspan dy="13.2">​</tspan>s<tspan font-size="19.5" dy="-13.2">-1</tspan><tspan dy="13.2">​</tspan>]</text>
<text stroke="none" fill="#000" transform="translate(29.4 984.9) rotate(-90)" x="441.44" y="0" font-size="27"  textLength="215.5" lengthAdjust="spacingAndGlyphs">&amp; oxygen atom flux,</text>
<text stroke="none" fill="#000" transform="translate(29.4 984.9) rotate(-90)" x="662.09" y="0" font-size="27"  textLength="34.74" lengthAdjust="spacingAndGlyphs">Γ<tspan font-size="19.5" dy="9">O</tspan><tspan dy="-9">​</tspan>,</text>
<text stroke="none" fill="#000" transform="translate(29.4 984.9) rotate(-90)" x="704.34" y="0" font-size="27"  textLength="39.57" lengthAdjust="spacingAndGlyphs">10<tspan font-size="19.5" dy="-13.2">-2</tspan><tspan dy="13.2">​</tspan></text>
<text stroke="none" fill="#000" transform="translate(29.4 984.9) rotate(-90)" x="752.7" y="0" font-size="27"  textLength="89.4" lengthAdjust="spacingAndGlyphs">[cm<tspan font-size="19.5" dy="-13.2">-2</tspan><tspan dy="13.2">​</tspan>s<tspan font-size="19.5" dy="-13.2">-1</tspan><tspan dy="13.2">​</tspan>]</text>
<text stroke="none" fill="#000" transform="translate(768.8 647) rotate(-90)" x="-0.74" y="0" font-size="27"  textLength="29.34" lengthAdjust="spacingAndGlyphs">Γ<tspan font-size="19.5" dy="9">O</tspan><tspan dy="-9">​</tspan></text>
<text stroke="none" fill="#000" transform="translate(768.8 647) rotate(-90)" x="35" y="0" font-size="27"  textLength="7.22" lengthAdjust="spacingAndGlyphs">/</text>
<text stroke="none" fill="#000" transform="translate(768.8 647) rotate(-90)" x="48.17" y="0" font-size="27"  textLength="113.48" lengthAdjust="spacingAndGlyphs">(M<tspan font-size="19.5" dy="9">i</tspan><tspan dy="-9">​</tspan>ε<tspan font-size="19.5" dy="9">i</tspan><tspan dy="-9">​</tspan>)<tspan font-size="19.5" dy="-13.2">1/2</tspan><tspan dy="13.2">​</tspan>Γ<tspan font-size="19.5" dy="9">+</tspan><tspan dy="-9">​</tspan></text>
</g>
</svg>
</body>
</html>
